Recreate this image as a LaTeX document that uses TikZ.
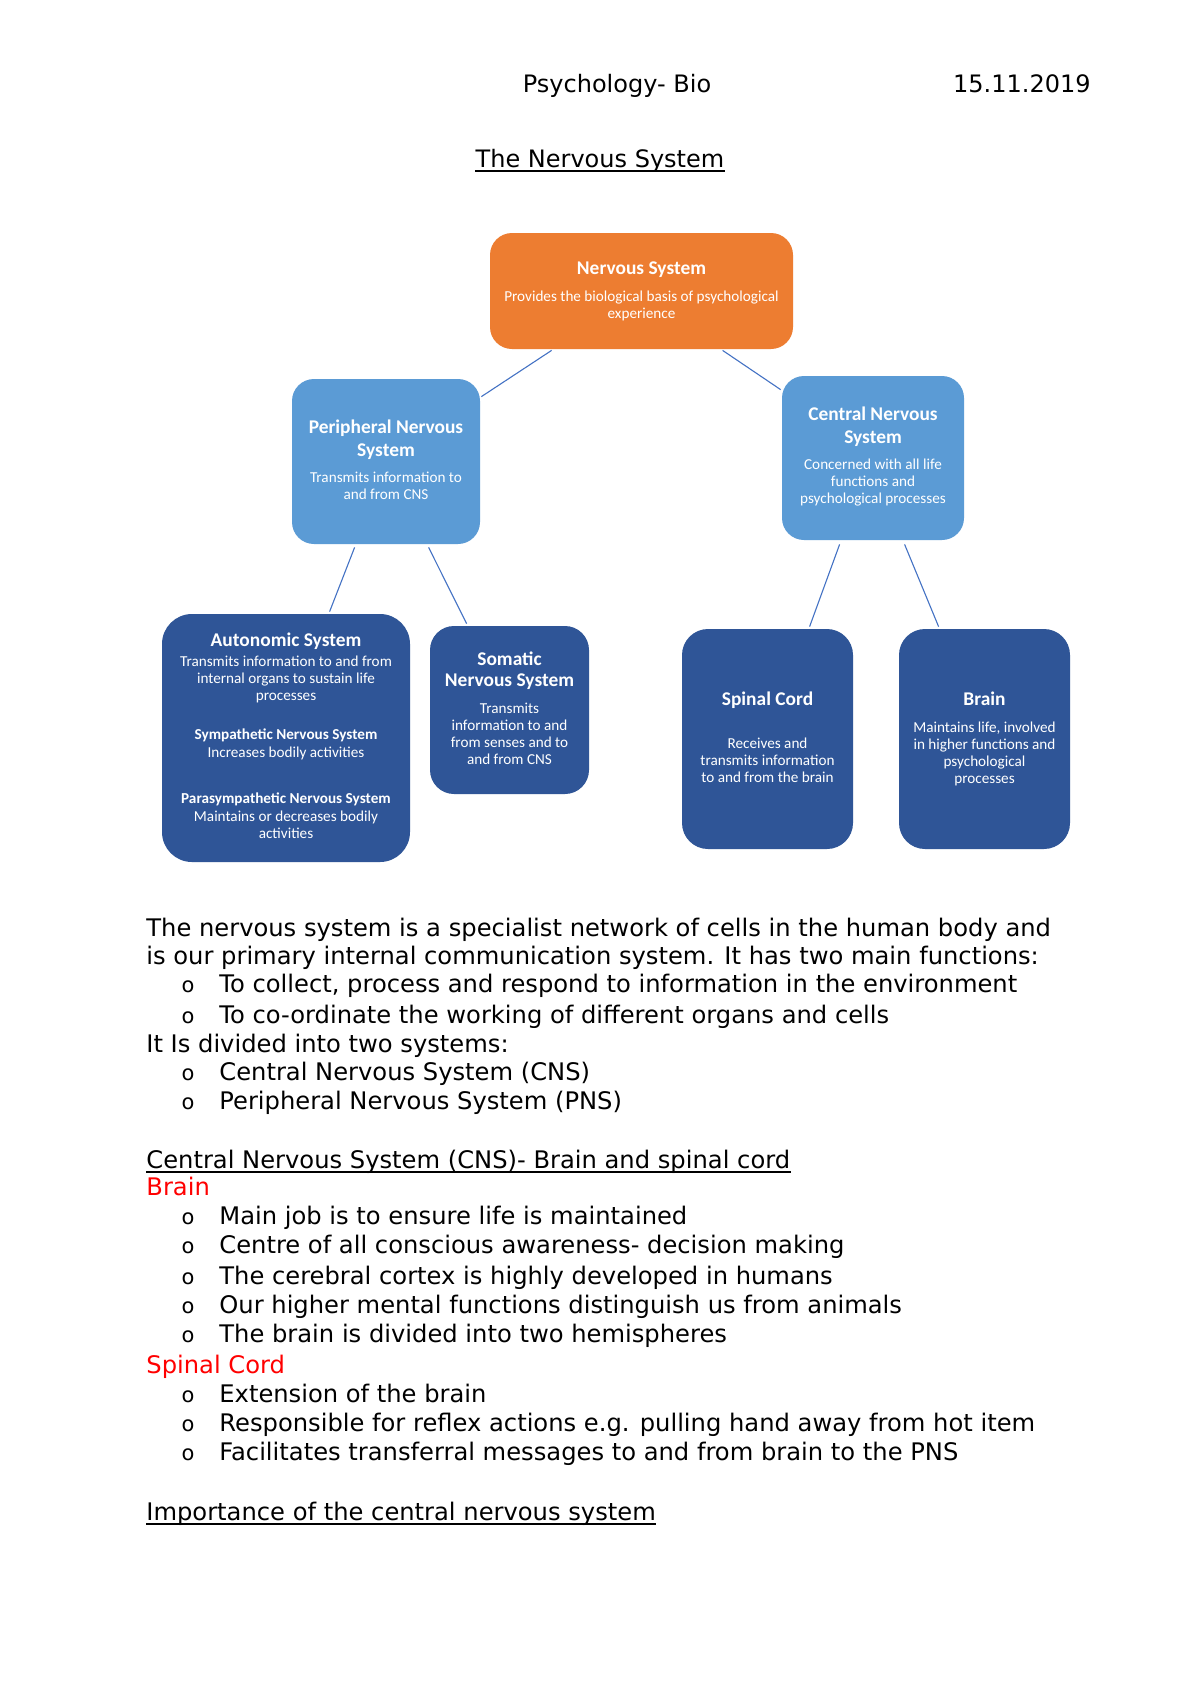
\documentclass[tikz,border=0pt]{standalone}
\usepackage{fontspec}
\setmainfont{DejaVu Sans}
\newfontfamily\boxfont{Carlito}
\usetikzlibrary{calc}
\definecolor{nsorange}{HTML}{ED7D31}
\definecolor{lightblue}{HTML}{5B9BD5}
\definecolor{darkblue}{HTML}{2F5597}
\definecolor{connblue}{HTML}{4472C4}
\definecolor{redhead}{HTML}{FF0000}
\begin{document}
\begin{tikzpicture}[x=0.5pt,y=-0.5pt,
  box/.style={rounded corners=11pt, inner sep=0pt, draw=none},
  btitle/.style={anchor=base, inner sep=0pt, text=white, font=\boxfont\bfseries\fontsize{9.7}{11}\selectfont},
  bsubb/.style={anchor=base, inner sep=0pt, text=white, font=\boxfont\bfseries\fontsize{7.6}{9}\selectfont},
  bsub/.style={anchor=base, inner sep=0pt, text=white, font=\boxfont\fontsize{7.6}{9}\selectfont},
  conn/.style={draw=connblue, line width=0.55pt},
  txt/.style={anchor=base west, inner sep=0pt, font=\fontsize{12.1}{14}\selectfont},
  ctxt/.style={anchor=base, inner sep=0pt, font=\fontsize{12}{14}\selectfont},
  bul/.style={anchor=base, inner sep=0pt, font=\fontsize{10.5}{12}\selectfont},
  uline/.style={line width=0.6pt}
]
\useasboundingbox[fill=white] (0,0) rectangle (1200,1698);

% header
\node[ctxt] (hdr) at (617,92) {Psychology- Bio};
\node[ctxt, anchor=base east] (date) at (1091,92) {15.11.2019};
\node[ctxt] (ttl) at (600,167) {The Nervous System};
\draw[uline] ([yshift=-2pt]ttl.base west) -- ([yshift=-2pt]ttl.base east);

% boxes
\node[box, fill=nsorange, minimum width=151.5pt, minimum height=58pt] (ns) at (641.5,291) {};
\node[box, fill=lightblue, minimum width=94pt, minimum height=82.5pt] (pns) at (386,461.5) {};
\node[box, fill=lightblue, minimum width=91pt, minimum height=82pt] (cns) at (873,458) {};
\node[box, fill=darkblue, rounded corners=15pt, minimum width=124pt, minimum height=124pt] (aut) at (286,738) {};
\node[box, fill=darkblue, rounded corners=12pt, minimum width=79.5pt, minimum height=84pt] (som) at (509.5,710) {};
\node[box, fill=darkblue, rounded corners=13pt, minimum width=85.5pt, minimum height=110pt] (sp) at (767.5,739) {};
\node[box, fill=darkblue, rounded corners=13pt, minimum width=85.5pt, minimum height=110pt] (br) at (984.5,739) {};

% box texts
\node[btitle] (nst) at (641.5,274) {Nervous System};
\node[bsub] (ns1) at (641.5,301) {Provides the biological basis of psychological};
\node[bsub] (ns2) at (641.5,318) {experience};

\node[btitle] (pnst1) at (386,433) {Peripheral Nervous};
\node[btitle] (pnst2) at (386,456) {System};
\node[bsub] (pns1) at (386,482) {Transmits information to};
\node[bsub] (pns2) at (386,499) {and from CNS};

\node[btitle] (cnst1) at (873,420) {Central Nervous};
\node[btitle] (cnst2) at (873,443) {System};
\node[bsub] (cns1) at (873,469) {Concerned with all life};
\node[bsub] (cns2) at (873,486) {functions and};
\node[bsub] (cns3) at (873,503) {psychological processes};

\node[btitle] (autt) at (286,646) {Autonomic System};
\node[bsub] (aut1) at (286,666) {Transmits information to and from};
\node[bsub] (aut2) at (286,683) {internal organs to sustain life};
\node[bsub] (aut3) at (286,700) {processes};
\node[bsubb] (aut4) at (286,739) {Sympathetic Nervous System};
\node[bsub] (aut5) at (286,757) {Increases bodily activities};
\node[bsubb] (aut6) at (286,803) {Parasympathetic Nervous System};
\node[bsub] (aut7) at (286,821) {Maintains or decreases bodily};
\node[bsub] (aut8) at (286,838) {activities};

\node[btitle] (somt1) at (509.5,665) {Somatic};
\node[btitle] (somt2) at (509.5,686) {Nervous System};
\node[bsub] (som1) at (509.5,713) {Transmits};
\node[bsub] (som2) at (509.5,730) {information to and};
\node[bsub] (som3) at (509.5,747) {from senses and to};
\node[bsub] (som4) at (509.5,764) {and from CNS};

\node[btitle] (spt) at (767.5,705) {Spinal Cord};
\node[bsub] (sp1) at (767.5,748) {Receives and};
\node[bsub] (sp2) at (767.5,765) {transmits information};
\node[bsub] (sp3) at (767.5,782) {to and from the brain};

\node[btitle] (brt) at (984.5,705) {Brain};
\node[bsub] (br1) at (984.5,732) {Maintains life, involved};
\node[bsub] (br2) at (984.5,749) {in higher functions and};
\node[bsub] (br3) at (984.5,766) {psychological};
\node[bsub] (br4) at (984.5,783) {processes};

% connectors
\draw[conn] ([xshift=31pt,yshift=-0.5pt]ns.south west) -- ([xshift=0.5pt,yshift=-9pt]pns.north east);
\draw[conn] ([xshift=116.5pt,yshift=-0.5pt]ns.south west) -- ([xshift=-0.5pt,yshift=-7pt]cns.north west);
\draw[conn] ([xshift=31.5pt,yshift=-1.5pt]pns.south west) -- ([xshift=84pt,yshift=1pt]aut.north west);
\draw[conn] ([xshift=68.5pt,yshift=-1.5pt]pns.south west) -- ([xshift=18.5pt,yshift=1pt]som.north west);
\draw[conn] ([xshift=29pt,yshift=-2pt]cns.south west) -- ([xshift=64pt,yshift=1pt]sp.north west);
\draw[conn] ([xshift=61.5pt,yshift=-2pt]cns.south west) -- ([xshift=20pt,yshift=1pt]br.north west);

% body text
\node[txt] (l1) at (146,936) {The nervous system is a specialist network of cells in the human body and};
\node[txt] (l2) at (146,964) {is our primary internal communication system. It has two main functions:};
\node[bul] (b3) at (188,992) {o}; \node[txt] (l3) at (219,992) {To collect, process and respond to information in the environment};
\node[bul] (b4) at (188,1023) {o}; \node[txt] (l4) at (219,1023) {To co-ordinate the working of different organs and cells};
\node[txt] (l5) at (146,1052) {It Is divided into two systems:};
\node[bul] (b6) at (188,1080) {o}; \node[txt] (l6) at (219,1080) {Central Nervous System (CNS)};
\node[bul] (b7) at (188,1109) {o}; \node[txt] (l7) at (219,1109) {Peripheral Nervous System (PNS)};

\node[txt] (l8) at (146,1168) {Central Nervous System (CNS)- Brain and spinal cord};
\draw[uline] ([yshift=-2pt]l8.base west) -- ([yshift=-2pt]l8.base east);
\node[txt, text=redhead] (l9) at (146,1195) {Brain};
\node[bul] (b10) at (188,1224) {o}; \node[txt] (l10) at (219,1224) {Main job is to ensure life is maintained};
\node[bul] (b11) at (188,1253) {o}; \node[txt] (l11) at (219,1253) {Centre of all conscious awareness- decision making};
\node[bul] (b12) at (188,1284) {o}; \node[txt] (l12) at (219,1284) {The cerebral cortex is highly developed in humans};
\node[bul] (b13) at (188,1313) {o}; \node[txt] (l13) at (219,1313) {Our higher mental functions distinguish us from animals};
\node[bul] (b14) at (188,1342) {o}; \node[txt] (l14) at (219,1342) {The brain is divided into two hemispheres};
\node[txt, text=redhead] (l15) at (146,1373) {Spinal Cord};
\node[bul] (b16) at (188,1402) {o}; \node[txt] (l16) at (219,1402) {Extension of the brain};
\node[bul] (b17) at (188,1431) {o}; \node[txt] (l17) at (219,1431) {Responsible for reflex actions e.g. pulling hand away from hot item};
\node[bul] (b18) at (188,1460) {o}; \node[txt] (l18) at (219,1460) {Facilitates transferral messages to and from brain to the PNS};

\node[txt] (l19) at (146,1520) {Importance of the central nervous system};
\draw[uline] ([yshift=-2pt]l19.base west) -- ([yshift=-2pt]l19.base east);
\end{tikzpicture}
\end{document}
